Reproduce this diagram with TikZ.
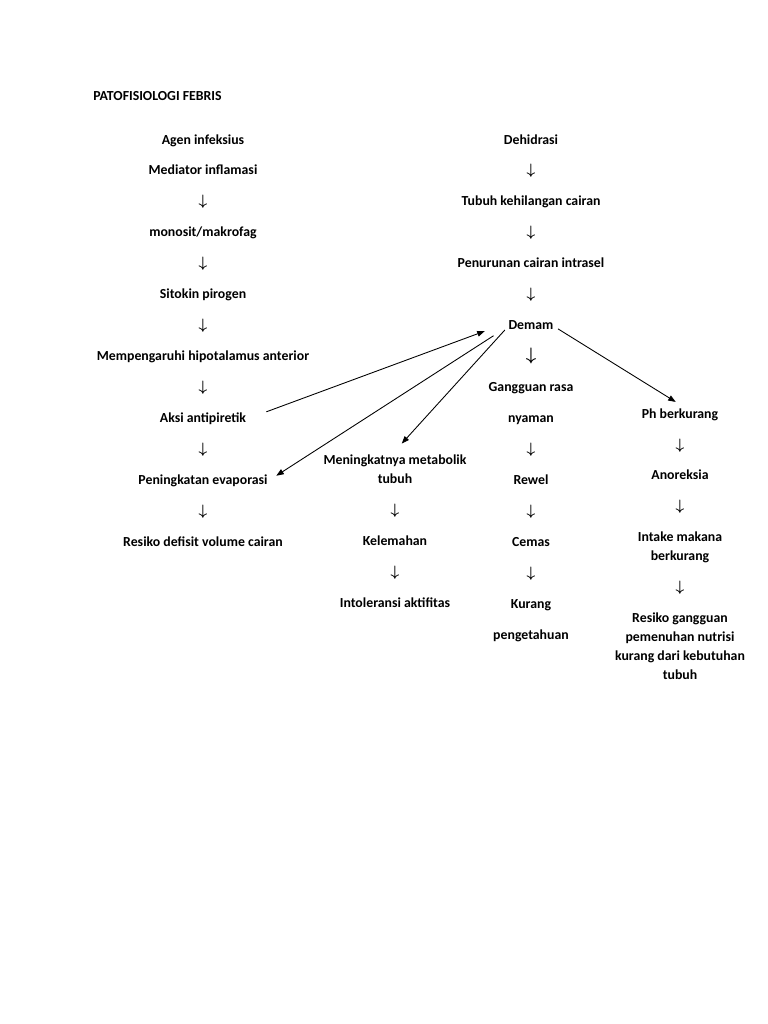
\documentclass[tikz,border=0pt]{standalone}
\usepackage{fontspec}
\setmainfont{Carlito}
\usetikzlibrary{arrows.meta,
                positioning}
\tikzset{
  item/.style={inner sep=0pt, align=center,
    font=\fontsize{11}{15}\selectfont\bfseries,
    execute at begin node=\strut, execute at end node=\strut},
  link/.style={-{Triangle[length=6pt,width=4.5pt]}, line width=0.7pt},
}
\DeclareRobustCommand{\down}{{\large\boldmath$\downarrow$}}
\DeclareRobustCommand{\bdown}{{\Large\boldmath$\downarrow$}}
\newcommand{\chain}[2]{%
    \foreach \txt [count=\n, remember=\n as \p (initially 0)] in {#2}{% each entry goes below the last one
      \node[item, below=9.3pt of #1\p] (#1\n) {\txt};
    }
}

\begin{document}
\begin{tikzpicture}[x=0.796875pt, y=-0.796875pt]
    \useasboundingbox (0,0) rectangle (768,1024);

    \node[item, anchor=base west] (title) at (93,100) {PATOFISIOLOGI FEBRIS};

    \node[item, anchor=base] (l0) at (203,144) {Agen infeksius};
    \chain{l}{Mediator inflamasi,\down,monosit/makrofag,\down,Sitokin pirogen,\down,Mempengaruhi hipotalamus anterior,\down,Aksi antipiretik,\down,Peningkatan evaporasi,\down,Resiko defisit volume cairan}

    \node[item, anchor=base] (r0) at (531,144) {Dehidrasi};
    \chain{r}{\down,Tubuh kehilangan cairan,\down,Penurunan cairan intrasel,\down,Demam,\bdown,Gangguan rasa,nyaman,\down,Rewel,\down,Cemas,\down,Kurang,pengetahuan}

    % multi-line entries need their own strut on the first line
    \node[item, anchor=north] (m0) at (395,451) {\strut Meningkatnya metabolik\\tubuh};
    \chain{m}{\down,Kelemahan,\down,Intoleransi aktifitas}

    \node[item, anchor=base] (p0) at (680,418) {Ph berkurang};
    \chain{p}{\down,Anoreksia,\down,{\strut Intake makana\\berkurang},\down,{\strut Resiko gangguan\\pemenuhan nutrisi\\kurang dari kebutuhan\\tubuh}}

    \draw[link, shorten <=17pt, shorten >=20pt] (l9.east) -- ([yshift=3pt]r6.west);
    \draw[link, shorten <=14pt, shorten >=8pt] (r6.west) -- (l11.east);
    \draw[link, shorten <=4pt, shorten >=8pt] (r6.west) -- (m0.north);
    \draw[link, shorten <=4pt, shorten >=4pt] (r6.east) -- (p0.north);

\end{tikzpicture}
\end{document}
